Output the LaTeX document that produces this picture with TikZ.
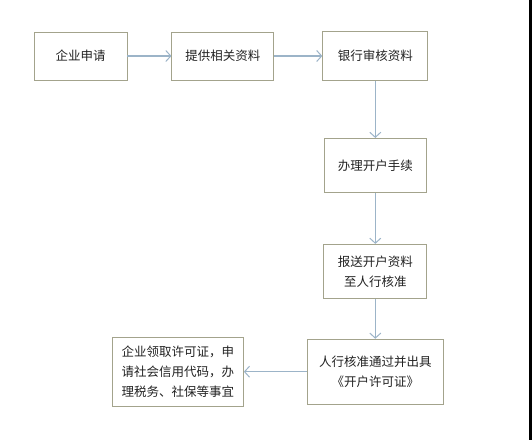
\documentclass[tikz,border=0pt]{standalone}
\usepackage{fontspec}
\setmainfont{Noto Sans CJK SC}
\usetikzlibrary{arrows.meta,positioning}
\definecolor{boxline}{HTML}{A3A38C}
\definecolor{arrline}{HTML}{9CB4C8}
\definecolor{txt}{HTML}{222222}

\begin{document}
\begin{tikzpicture}[x=1pt,y=1pt, box/.style={draw=boxline,line width=0.9pt,align=center,text=txt,font=\fontsize{12.5}{20}\selectfont,inner sep=0pt}, flow/.style={draw=arrline,line width=1.1pt,-{Straight Barb[length=5pt,width=11pt,line width=1pt]}}]
\useasboundingbox (0,0) rectangle (532,-440);
\fill[white] (0,0) rectangle (532,-440);
\fill[black] (529,0) rectangle (532,-440);
\node[box,minimum width=93pt,minimum height=48pt] (apply) at (80.5,-56) {企业申请};
\node[box,minimum width=102pt,minimum height=48pt,right=44pt of apply] (docs) {提供相关资料};
\node[box,minimum width=105pt,minimum height=49pt,right=48pt of docs] (review) {银行审核资料};
\node[box,minimum width=102pt,minimum height=54pt,below=57pt of review] (open) {办理开户手续};
\node[box,minimum width=103pt,minimum height=54pt,below=51pt of open] (submit) {报送开户资料\\至人行核准};
\node[box,minimum width=136pt,minimum height=65pt,below=40pt of submit] (permit) {人行核准通过并出具\\《开户许可证》};
\node[box,minimum width=131pt,minimum height=69pt,left=63pt of permit,align=left] (final) {企业领取许可证，申\\请社会信用代码，办\\理税务、社保等事宜};
\draw[flow] (apply)--(docs); \draw[flow] (docs)--(review); \draw[flow] (review)--(open);
\draw[flow] (open)--(submit); \draw[flow] (submit)--(permit); \draw[flow] (permit)--(final);
\end{tikzpicture}
\end{document}
